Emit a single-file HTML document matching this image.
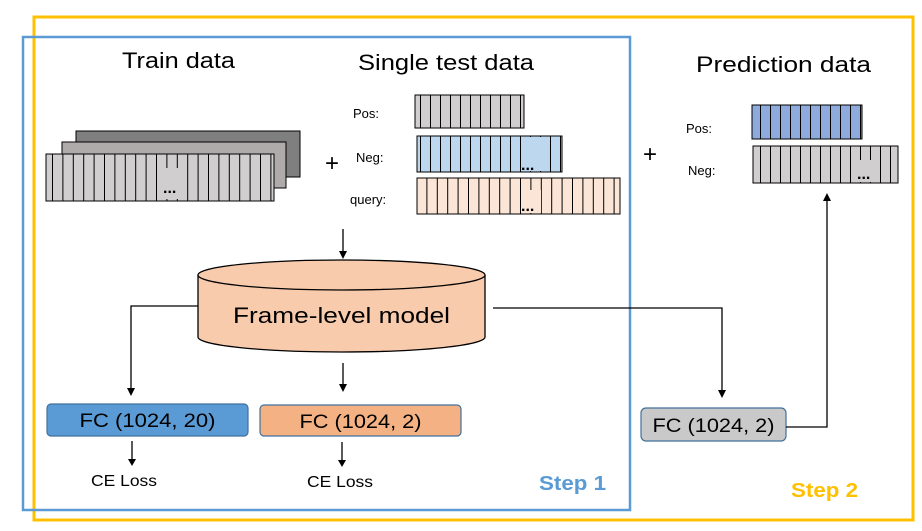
<!DOCTYPE html>
<html><head><meta charset="utf-8"><style>
html,body{margin:0;padding:0;background:#fff;}
svg{display:block;font-family:"Liberation Sans",sans-serif;}
</style></head><body>
<svg width="922" height="531" viewBox="0 0 922 531" xmlns="http://www.w3.org/2000/svg">
<defs>
<pattern id="c10" patternUnits="userSpaceOnUse" width="10.4" height="100"><line x1="0.5" y1="0" x2="0.5" y2="100" stroke="#000" stroke-width="1"/></pattern>
<pattern id="c9" patternUnits="userSpaceOnUse" width="10" height="100"><line x1="0.5" y1="0" x2="0.5" y2="100" stroke="#000" stroke-width="1"/></pattern>
</defs>
<rect x="34" y="17" width="879" height="503" fill="none" stroke="#FFC000" stroke-width="3"/>
<rect x="23" y="37" width="607" height="473" fill="none" stroke="#5B9BD5" stroke-width="2.5"/>

<text x="122" y="68" font-size="22" textLength="113" lengthAdjust="spacingAndGlyphs">Train data</text>
<text x="358" y="70" font-size="22" textLength="176" lengthAdjust="spacingAndGlyphs">Single test data</text>
<text x="696" y="72" font-size="22" textLength="175" lengthAdjust="spacingAndGlyphs">Prediction data</text>

<rect x="76" y="131" width="224" height="46" fill="#7F7F7F" stroke="#000"/>
<rect x="62" y="142" width="224" height="46" fill="#AFABAB" stroke="#000"/>
<rect x="46" y="154" width="228" height="47" fill="#D0CECE" stroke="#000"/>
<rect x="46" y="154" width="228" height="47" fill="url(#c10)"/>
<rect x="164" y="168" width="20" height="31" fill="#D0CECE"/>
<text x="163" y="193" font-size="16" font-weight="bold">...</text>
<text x="325" y="171" font-size="24">+</text>

<text x="353" y="118" font-size="13">Pos:</text>
<rect x="415" y="95" width="109" height="33" fill="#D0CECE" stroke="#000"/>
<rect x="415" y="95" width="109" height="33" fill="url(#c9)"/>
<text x="356" y="162" font-size="13">Neg:</text>
<rect x="417" y="136" width="145" height="36" fill="#BDD7EE" stroke="#000"/>
<rect x="417" y="136" width="145" height="36" fill="url(#c9)"/>
<rect x="521" y="137" width="20" height="34" fill="#BDD7EE"/>
<text x="521" y="170" font-size="16" font-weight="bold">...</text>
<text x="350" y="204" font-size="13">query:</text>
<rect x="417" y="178" width="203" height="36" fill="#FBE5D6" stroke="#000"/>
<rect x="417" y="178" width="203" height="36" fill="url(#c10)"/>
<rect x="521" y="190" width="20" height="23" fill="#FBE5D6"/>
<text x="521" y="211" font-size="16" font-weight="bold">...</text>

<text x="643" y="162" font-size="24">+</text>
<text x="686" y="133" font-size="13">Pos:</text>
<rect x="752" y="105" width="110" height="34" fill="#8FAADC" stroke="#000"/>
<rect x="752" y="105" width="110" height="34" fill="url(#c9)"/>
<text x="688" y="175" font-size="13">Neg:</text>
<rect x="753" y="146" width="145" height="37" fill="#D0CECE" stroke="#000"/>
<rect x="753" y="146" width="145" height="37" fill="url(#c9)"/>
<rect x="857" y="160" width="20" height="22" fill="#D0CECE"/>
<text x="857" y="179" font-size="16" font-weight="bold">...</text>

<line x1="343" y1="229" x2="343" y2="252" stroke="#000" stroke-width="1.3"/>
<path d="M339,251 L347,251 L343,259 Z"/>

<path d="M198,275 L198,337 A143.5,15 0 0 0 485,337 L485,275" fill="#F8CBAD" stroke="#000" stroke-width="1.3"/>
<ellipse cx="341.5" cy="275" rx="143.5" ry="15" fill="#F8CBAD" stroke="#000" stroke-width="1.3"/>
<text x="233" y="323" font-size="22" textLength="217" lengthAdjust="spacingAndGlyphs">Frame-level model</text>

<polyline points="198,306 131,306 131,389" fill="none" stroke="#000" stroke-width="1.3"/>
<path d="M127,388 L135,388 L131,396 Z"/>
<line x1="343" y1="363" x2="343" y2="385" stroke="#000" stroke-width="1.3"/>
<path d="M339,384 L347,384 L343,392 Z"/>
<polyline points="493,308 722,308 722,391" fill="none" stroke="#000" stroke-width="1.3"/>
<path d="M718,390 L726,390 L722,398 Z"/>

<rect x="47" y="404" width="201" height="32" rx="4" fill="#5B9BD5" stroke="#41719C" stroke-width="1.2"/>
<text x="147.5" y="427" font-size="19" text-anchor="middle" textLength="136" lengthAdjust="spacingAndGlyphs">FC (1024, 20)</text>
<rect x="260" y="405" width="201" height="31" rx="4" fill="#F4B183" stroke="#41719C" stroke-width="1.2"/>
<text x="360.5" y="428" font-size="19" text-anchor="middle" textLength="122" lengthAdjust="spacingAndGlyphs">FC (1024, 2)</text>
<rect x="641" y="408" width="145" height="33" rx="5" fill="#C9C9C9" stroke="#41719C" stroke-width="1.2"/>
<text x="713.5" y="432" font-size="19" text-anchor="middle" textLength="122" lengthAdjust="spacingAndGlyphs">FC (1024, 2)</text>

<line x1="132" y1="441" x2="132" y2="460" stroke="#000" stroke-width="1.3"/>
<path d="M128,459 L136,459 L132,466 Z"/>
<text x="124" y="486" font-size="16" text-anchor="middle" textLength="66" lengthAdjust="spacingAndGlyphs">CE Loss</text>
<line x1="342" y1="442" x2="342" y2="461" stroke="#000" stroke-width="1.3"/>
<path d="M338,460 L346,460 L342,467 Z"/>
<text x="340" y="487" font-size="16" text-anchor="middle" textLength="66" lengthAdjust="spacingAndGlyphs">CE Loss</text>

<polyline points="786,427 827,427 827,200" fill="none" stroke="#000" stroke-width="1.3"/>
<path d="M823,201 L831,201 L827,193 Z"/>

<text x="539" y="490" font-size="20" font-weight="bold" fill="#5B9BD5" textLength="67" lengthAdjust="spacingAndGlyphs">Step 1</text>
<text x="791" y="497" font-size="20" font-weight="bold" fill="#FFC000" textLength="67" lengthAdjust="spacingAndGlyphs">Step 2</text>
</svg>
</body></html>
